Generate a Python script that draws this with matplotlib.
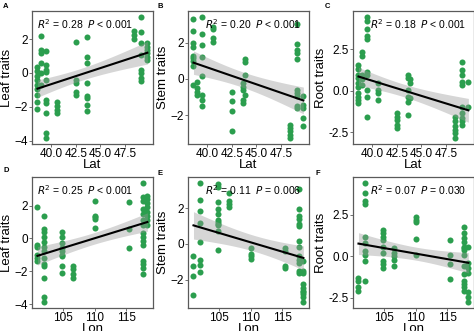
import numpy as np
import matplotlib
matplotlib.use("Agg")
import matplotlib.pyplot as plt

plt.rcParams['font.family'] = ['Liberation Sans', 'DejaVu Sans']

# site positions (shared by panels)
lat_sites = [38.6, 39.0, 39.5, 40.6, 42.5, 43.6, 43.85, 48.4, 49.2, 49.8]
lon_sites = [101.0, 102.1, 104.8, 106.6, 110.1, 115.4, 117.6, 118.3]

# trait values per site
leaf_lat = [
    [0.37, 0.12, -0.18, -0.41, -0.71, -0.96, -1.29, -1.69, -2.14],
    [2.2, 1.35, 1.2, 0.6, -0.02, -0.71],
    [1.3, 0.47, 0.18, 0.08, -0.41, -1.6, -1.8, -2.37, -3.55, -3.84],
    [-1.69, -1.98, -2.18, -2.37],
    [1.84, -0.41, -0.6, -1.1, -1.3],
    [2.1, 0.96, 0.57, -0.57, -1.35, -1.5, -1.88, -2.24],
    [],
    [2.49, 2.24, 1.98],
    [3.31, 2.43, 1.75, 1.06, 0.18, -0.02, -0.31, -0.47],
    [1.75, 1.55, 1.35, 1.16, 0.96, 0.76],
]
stem_lat = [
    [3.34, 2.64, 2.0, 1.78, 1.27, 1.14, 0.99, 0.72, -0.33],
    [-0.15, -0.51, -0.7, -0.88],
    [3.43, 2.48, 1.87, 1.19, 0.17, -0.88, -1.16, -1.52],
    [2.88, 2.79, 2.24, 2.06],
    [-0.7, -1.25, -1.8, -2.86],
    [-0.24, -0.46, -0.6, -1.16, -1.34],
    [1.08, 0.95, 0.2, -0.88],
    [-2.53, -2.72, -2.9, -3.08, -3.27],
    [3.03, 1.96, 1.6, 1.41, 1.08, -0.61, -0.79, -0.97, -1.52, -1.61],
    [-0.97, -1.43, -1.61, -2.17, -2.62],
]
root_lat = [
    [1.53, 1.33, 0.93, 0.79, 0.44, 0.2, -0.16, -0.36, -0.56, -0.75],
    [2.32, 2.12, 0.93, 0.73, 0.34],
    [4.44, 4.21, 3.71, 3.31, 3.11, 1.13, 0.93, 0.04, -0.36, -1.55],
    [0.48, 0.04, -0.16, -0.56],
    [-1.35, -1.55, -1.75, -2.04, -2.24],
    [0.93, 0.79, 0.04, -0.36, -0.65, -1.45],
    [0.73, 0.44, -0.46],
    [-1.55, -1.85, -2.14, -2.34, -2.54, -2.84],
    [1.73, 1.23, 0.93, 0.54, 0.34, -0.95, -1.35, -1.65, -1.85, -2.04],
    [0.54, -0.95],
]
leaf_lon = [
    [1.93, -0.4, -0.5, -0.99, -1.19, -1.39],
    [1.39, 0.6, 0.4, 0.1, -0.2, -0.5, -0.8, -1.19, -1.59, -1.69, -2.39, -3.58, -3.88],
    [0.4, 0.1, -0.3, -0.6, -0.8, -0.99, -1.09, -1.69, -2.09],
    [-1.69, -1.89, -2.19, -2.39],
    [2.25, 1.39, 1.29, 1.19, 0.66],
    [2.19, 0.6, -0.56],
    [3.38, 2.52, 2.29, 1.79, 1.49, 1.09, 0.8, 0.3, 0.1, -0.14, -0.4, -1.39, -1.59, -1.79, -2.19],
    [2.58, 2.39, 2.13, 1.89, 1.59, 1.39, 1.09, 0.8],
]
stem_lon = [
    [-0.69, -1.24, -1.78, -2.84],
    [3.4, 2.45, 1.85, 1.16, 0.13, -0.87, -1.2, -1.56],
    [3.31, 3.16, 2.31, 1.95, 1.67, 1.31, 1.22, 1.13, 1.04, 0.73, -0.33],
    [2.85, 2.4, 2.22, 2.04],
    [-0.24, -0.55, -0.69, -0.84],
    [-0.24, -0.42, -1.24, -1.33],
    [3.04, 1.95, 1.58, 1.4, 1.13, 0.98, 0.18, -0.18, -0.69, -0.87, -1.05, -1.51, -1.6],
    [-0.96, -1.51, -1.6, -2.24, -2.47, -2.6, -2.69, -2.78, -2.96, -3.24],
]
root_lon = [
    [-1.28, -1.48, -1.87, -2.07],
    [4.43, 3.84, 3.35, 3.15, 1.18, 0.79, 0.3, 0.1, -0.3, -1.48],
    [1.57, 1.38, 1.18, 0.98, 0.59, 0.2, -0.3, -0.49, -0.69],
    [0.49, 0.2, 0.0, -0.2, -0.59],
    [2.36, 2.17, 2.07, 1.02, 0.1],
    [0.98, 0.1, -0.49, -1.38],
    [1.77, 1.38, 1.08, 0.89, 0.59, 0.49, 0.39, 0.1, -0.59, -1.08, -1.48, -1.67, -1.87, -2.07],
    [0.59, -0.39, -0.69, -0.98, -2.17, -2.46, -2.76],
]

panel_letters = ['A', 'B', 'C', 'D', 'E', 'F']
ylabels = ['Leaf traits', 'Stem traits', 'Root traits'] * 2
stats = ['$R^2$ = 0.28  $P$ < 0.001', '$R^2$ = 0.20  $P$ < 0.001',
         '$R^2$ = 0.18  $P$ < 0.001', '$R^2$ = 0.25  $P$ < 0.001',
         '$R^2$ = 0.11  $P$ = 0.006', '$R^2$ = 0.07  $P$ = 0.030']

green = '#2b9e4e'
frame = '#5a5a5a'

fig = plt.figure(figsize=(4.74, 3.31), dpi=100)
lefts = [0.0675, 0.3966, 0.7447]
bottoms = [0.565, 0.0695]
heights = [0.402, 0.396]
width = 0.255

panels = [(lat_sites, leaf_lat), (lat_sites, stem_lat), (lat_sites, root_lat),
          (lon_sites, leaf_lon), (lon_sites, stem_lon), (lon_sites, root_lon)]

for i, (sites, groups) in enumerate(panels):
    r, c = divmod(i, 3)
    ax = fig.add_axes([lefts[c], bottoms[r], width, heights[r]])
    x = np.concatenate([[s] * len(g) for s, g in zip(sites, groups)])
    y = np.concatenate([g for g in groups if len(g)])
    ax.scatter(x, y, s=19, color=green, linewidths=0, zorder=2)

    # linear fit with 95% band
    b, a = np.polyfit(x, y, 1)
    n = len(x)
    xs = np.linspace(x.min(), x.max(), 80)
    resid = y - (a + b * x)
    s = np.sqrt(np.sum(resid ** 2) / (n - 2))
    se = s * np.sqrt(1 / n + (xs - x.mean()) ** 2 / np.sum((x - x.mean()) ** 2))
    fit = a + b * xs
    ax.fill_between(xs, fit - 1.98 * se, fit + 1.98 * se, color='#999999',
                    alpha=0.4, linewidth=0, zorder=3)
    ax.plot(xs, fit, color='black', lw=1.5, zorder=4)

    if c == 0:
        ax.text(0.04, 0.9, stats[i], transform=ax.transAxes, ha='left',
                va='center', fontsize=7.5, zorder=5)
    else:
        ax.text(0.94, 0.9, stats[i], transform=ax.transAxes, ha='right',
                va='center', fontsize=7.5, zorder=5)

    if r == 0:
        ax.set_xticks([40, 42.5, 45, 47.5])
        ax.set_xticklabels(['40.0', '42.5', '45.0', '47.5'])
        ax.set_xlabel('Lat', fontsize=9.5, labelpad=-1)
    else:
        ax.set_xticks([105, 110, 115])
        ax.set_xlabel('Lon', fontsize=9.5, labelpad=-1)
    if c == 0:
        ax.set_yticks([-4, -2, 0, 2])
    elif c == 1:
        ax.set_yticks([-2, 0, 2])
    else:
        ax.set_yticks([-2.5, 0, 2.5])
        ax.set_yticklabels(['-2.5', '0.0', '2.5'])
    ax.set_ylabel(ylabels[i], fontsize=9.5, labelpad=1)
    ax.tick_params(labelsize=8.5, length=2, width=0.6, color=frame, pad=1)
    for sp in ax.spines.values():
        sp.set_color(frame)
        sp.set_linewidth(0.9)

# panel letters
letter_pos = [(3, 3), (158, 3), (325, 3), (3, 167), (158, 170), (315, 170)]
for lab, (px, py) in zip(panel_letters, letter_pos):
    fig.text(px / 474, 1 - py / 331, lab, fontsize=5.5, fontweight='bold',
             ha='left', va='top')

fig.savefig('out.png', dpi=100)
